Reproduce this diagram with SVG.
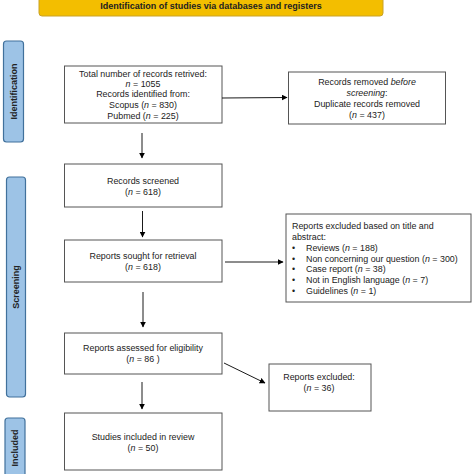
<svg xmlns="http://www.w3.org/2000/svg" width="474" height="474" viewBox="0 0 474 474">
<defs>
<marker id="ah" viewBox="0 0 10 10" refX="9" refY="5" markerWidth="6" markerHeight="6" orient="auto" markerUnits="userSpaceOnUse">
<path d="M0,0 L10,5 L0,10 z" fill="#000"/>
</marker>
<style>
text{font-family:"Liberation Sans",Arial,sans-serif;font-size:8.9px;fill:#222}
.c{text-anchor:middle}
.b{font-weight:bold}
.box{fill:#fff;stroke:#555;stroke-width:1}
.side{fill:#9DC3E6;stroke:#41719C;stroke-width:1.2}
.i{font-style:italic}
.conn line{stroke:#000;stroke-width:0.9;marker-end:url(#ah)}
</style>
</defs>
<rect width="474" height="474" fill="#fff"/>
<g id="banner">
<rect x="39" y="-6" width="344" height="22" rx="3" fill="#F3BE00" stroke="#C9A227" stroke-width="1"/>
<text x="211" y="9" class="c b" style="font-size:9px">Identification of studies via databases and registers</text>
</g>
<g id="lbl-identification">
<rect x="3.5" y="41" width="20" height="101" rx="3" class="side"/>
<text class="c b" transform="translate(16.8,91.5) rotate(-90)" style="font-size:9px">Identification</text>
</g>
<g id="lbl-screening">
<rect x="6.5" y="177" width="19" height="220" rx="3" class="side"/>
<text class="c b" transform="translate(19.3,287) rotate(-90)" style="font-size:9px">Screening</text>
</g>
<g id="lbl-included">
<rect x="5" y="418" width="20" height="70" rx="3" class="side"/>
<text class="c b" transform="translate(18.3,448) rotate(-90)" style="font-size:9px">Included</text>
</g>
<g id="n-total">
<rect x="64.5" y="66" width="157.5" height="57" class="box"/>
<text x="143" y="76.5" class="c">Total number of records retrived:</text>
<text x="143" y="86.5" class="c"><tspan class="i">n</tspan> = 1055</text>
<text x="143" y="97" class="c">Records identified from:</text>
<text x="143" y="107.5" class="c">Scopus (<tspan class="i">n</tspan> = 830)</text>
<text x="143" y="118.5" class="c">Pubmed (<tspan class="i">n</tspan> = 225)</text>
</g>
<g id="n-removed">
<rect x="288.5" y="72" width="157" height="52" class="box"/>
<text x="367" y="85" class="c">Records removed <tspan class="i">before</tspan></text>
<text x="367" y="96" class="c"><tspan class="i">screening</tspan>:</text>
<text x="367" y="106.5" class="c">Duplicate records removed</text>
<text x="367" y="117.5" class="c">(<tspan class="i">n</tspan> = 437)</text>
</g>
<g id="n-screened">
<rect x="64.5" y="164" width="157.5" height="43" class="box"/>
<text x="143" y="184" class="c">Records screened</text>
<text x="143" y="195" class="c">(<tspan class="i">n</tspan> = 618)</text>
</g>
<g id="n-sought">
<rect x="64.5" y="240" width="157.5" height="42" class="box"/>
<text x="143" y="259" class="c">Reports sought for retrieval</text>
<text x="143" y="270" class="c">(<tspan class="i">n</tspan> = 618)</text>
</g>
<g id="n-excluded-title">
<rect x="286" y="214" width="185" height="88" class="box"/>
<text x="292" y="228.5">Reports excluded based on title and</text>
<text x="292" y="239.5">abstract:</text>
<text x="292" y="250.5">•</text><text x="306" y="250.5">Reviews (<tspan class="i">n</tspan> = 188)</text>
<text x="292" y="261.5">•</text><text x="306" y="261.5">Non concerning our question (<tspan class="i">n</tspan> = 300)</text>
<text x="292" y="272">•</text><text x="306" y="272">Case report (<tspan class="i">n</tspan> = 38)</text>
<text x="292" y="283">•</text><text x="306" y="283">Not in English language (<tspan class="i">n</tspan> = 7)</text>
<text x="292" y="293.5">•</text><text x="306" y="293.5">Guidelines (<tspan class="i">n</tspan> = 1)</text>
</g>
<g id="n-assessed">
<rect x="64.5" y="333" width="157.5" height="41" class="box"/>
<text x="143" y="351" class="c">Reports assessed for eligibility</text>
<text x="143" y="362" class="c">(<tspan class="i">n</tspan> = 86 )</text>
</g>
<g id="n-excluded">
<rect x="269" y="364" width="102" height="47" class="box"/>
<text x="319" y="380" class="c">Reports excluded:</text>
<text x="319" y="391" class="c">(<tspan class="i">n</tspan> = 36)</text>
</g>
<g id="n-included">
<rect x="64.5" y="413" width="157.5" height="57" class="box"/>
<text x="143" y="440" class="c">Studies included in review</text>
<text x="143" y="450.5" class="c">(<tspan class="i">n</tspan> = 50)</text>
</g>
<g id="connectors" class="conn">
<line x1="222" y1="98" x2="287" y2="97.5"/>
<line x1="142" y1="133" x2="142" y2="158"/>
<line x1="142.5" y1="211" x2="142.5" y2="237"/>
<line x1="225" y1="262" x2="283" y2="262"/>
<line x1="143" y1="292" x2="143" y2="327"/>
<line x1="224" y1="363" x2="265" y2="383"/>
<line x1="142" y1="382" x2="142" y2="409"/>
</g>
</svg>
